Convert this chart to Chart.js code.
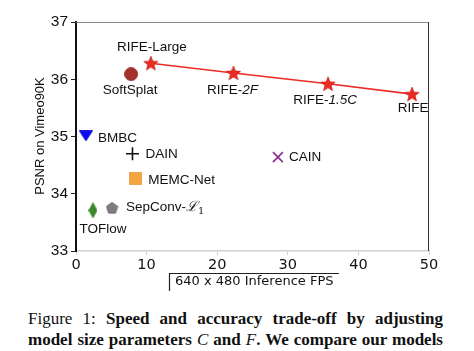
<!DOCTYPE html>
<html>
<head>
<meta charset="utf-8">
<script src="https://cdn.jsdelivr.net/npm/chart.js@4.4.0/dist/chart.umd.min.js"></script>
<style>
  html, body { margin: 0; padding: 0; background: #fff; }
  #wrap { position: relative; width: 474px; height: 351px; overflow: hidden; }
  #box { position: absolute; left: 0; top: 0; width: 474px; height: 300px; }
  .cap { position: absolute; left: 28px; width: 415px; font-family: "Liberation Serif", serif;
         font-size: 17px; font-weight: bold; color: #111; text-align: justify; text-align-last: justify;
         white-space: nowrap; line-height: 21px; }
  .cap .n { font-weight: normal; }
  .cap i { font-weight: normal; }
</style>
</head>
<body>
<div id="wrap">
  <div id="box"><canvas id="trade"></canvas></div>
  <div class="cap" style="top:308px"><span class="n">Figure 1:</span> Speed and accuracy trade-off by adjusting</div>
  <div class="cap" style="top:329px">model size parameters <i>C</i> and <i>F</i>. We compare our models</div>
</div>
<script>
// RIFE 계열 (선으로 연결)
const rifeNames = ['RIFE-Large', 'RIFE-2F', 'RIFE-1.5C', 'RIFE'];
const rifeFps = [10.6, 22.3, 35.7, 47.6];
const rifePsnr = [36.28, 36.11, 35.92, 35.74];

// 비교 대상 방법들
const otherNames = ['SoftSplat', 'BMBC', 'DAIN', 'MEMC-Net', 'SepConv-L1', 'TOFlow', 'CAIN'];
const otherFps = [7.8, 1.4, 8.0, 8.4, 5.1, 2.4, 28.6];
const otherPsnr = [36.09, 35.01, 34.70, 34.26, 33.76, 33.71, 34.64];

// 축 눈금
const xTicks = [0, 10, 20, 30, 40, 50];
const yTicks = [33, 34, 35, 36, 37];

// 마커 이미지 생성
function makeMarker(shape, fill, stroke, w, h) {
    const c = document.createElement('canvas');
    c.width = w; c.height = h;
    const g = c.getContext('2d');
    const cx = w / 2, cy = h / 2;
    g.fillStyle = fill;
    g.strokeStyle = stroke;
    g.lineWidth = 0.8;
    g.beginPath();
    if (shape === 'star') {
        const ro = w / 2 - 0.5, ri = ro * 0.42;
        for (let i = 0; i < 10; i++) {
            const r = i % 2 === 0 ? ro : ri;
            const a = -Math.PI / 2 + i * Math.PI / 5;
            const px = cx + r * Math.cos(a), py = cy + 0.6 + r * Math.sin(a);
            if (i === 0) g.moveTo(px, py); else g.lineTo(px, py);
        }
    } else if (shape === 'pentagon') {
        const ro = w / 2 - 0.5;
        for (let i = 0; i < 5; i++) {
            const a = -Math.PI / 2 + i * 2 * Math.PI / 5;
            const px = cx + ro * Math.cos(a), py = cy + 0.8 + ro * Math.sin(a);
            if (i === 0) g.moveTo(px, py); else g.lineTo(px, py);
        }
    } else if (shape === 'diamond') {
        g.moveTo(cx, 0.5); g.lineTo(w - 0.5, cy); g.lineTo(cx, h - 0.5); g.lineTo(0.5, cy);
    } else if (shape === 'triDown') {
        g.moveTo(0.5, 0.5); g.lineTo(w - 0.5, 0.5); g.lineTo(cx, h - 0.5);
    } else if (shape === 'circle') {
        g.arc(cx, cy, w / 2 - 0.5, 0, Math.PI * 2);
    } else if (shape === 'square') {
        g.rect(0.5, 0.5, w - 1, h - 1);
    }
    g.closePath();
    g.fill();
    g.stroke();
    return c;
}

const starImg = makeMarker('star', '#ec2b24', '#c81e18', 16, 16);
const otherStyles = [
    makeMarker('circle', '#a5302d', '#8a2522', 14, 14),
    makeMarker('triDown', '#0a0af5', '#0000c8', 14, 11),
    'cross',
    makeMarker('square', '#f4a540', '#e89a35', 13, 13),
    makeMarker('pentagon', '#7d7d7d', '#6a6a6a', 13, 13),
    makeMarker('diamond', '#3a8a26', '#2e7420', 9, 16),
    'crossRot'
];
const otherColors = ['#a5302d', '#0a0af5', '#111', '#f4a540', '#7d7d7d', '#3a8a26', '#8e2a8e'];

// 라벨 위치 (점 기준 픽셀 오프셋)
const labelPos = {
    'RIFE-Large': [1, -16, 'center'],
    'RIFE-2F': [-1, 17, 'center'],
    'RIFE-1.5C': [-3, 16, 'center'],
    'RIFE': [1, 14, 'center'],
    'SoftSplat': [-1, 16, 'center'],
    'BMBC': [12, 2, 'left'],
    'DAIN': [13, 1, 'left'],
    'MEMC-Net': [13, 1, 'left'],
    'SepConv-L1': [14, 0, 'left'],
    'TOFlow': [10, 19, 'center'],
    'CAIN': [11, 0, 'left']
};

const LF = '13.5px "Liberation Sans", Arial, sans-serif';
const LFI = 'italic 13.5px "Liberation Sans", Arial, sans-serif';

function labelParts(name) {
    if (name === 'RIFE-2F') return [['RIFE-', LF], ['2F', LFI]];
    if (name === 'RIFE-1.5C') return [['RIFE-', LF], ['1.5C', LFI]];
    if (name === 'SepConv-L1') return [['SepConv-', LF], ['\u2112', 'italic 14px "DejaVu Serif", serif'], ['1', '10px "DejaVu Serif", serif', 4]];
    return [[name, LF]];
}

const labelPlugin = {
    id: 'pointLabels',
    afterDatasetsDraw(chart) {
        const ctx = chart.ctx;
        ctx.save();
        ctx.fillStyle = '#111';
        ctx.textBaseline = 'middle';
        chart.data.datasets.forEach((ds, di) => {
            const meta = chart.getDatasetMeta(di);
            meta.data.forEach((pt, i) => {
                const name = ds.names[i];
                const pos = labelPos[name];
                const parts = labelParts(name);
                let total = 0;
                parts.forEach(p => { ctx.font = p[1]; total += ctx.measureText(p[0]).width; });
                let x = pt.x + pos[0];
                if (pos[2] === 'center') x -= total / 2;
                const y = pt.y + pos[1];
                ctx.textAlign = 'left';
                parts.forEach(p => {
                    ctx.font = p[1];
                    ctx.fillText(p[0], x, y + (p[2] || 0));
                    x += ctx.measureText(p[0]).width;
                });
            });
        });
        ctx.restore();
    }
};

// 테두리, 축 제목
const framePlugin = {
    id: 'frame',
    afterDraw(chart) {
        const ctx = chart.ctx;
        const a = chart.chartArea;
        ctx.save();
        ctx.lineWidth = 1;
        ctx.strokeStyle = '#8a8a8a';
        ctx.beginPath();
        ctx.moveTo(a.left, a.top + 0.5); ctx.lineTo(a.right, a.top + 0.5);
        ctx.stroke();
        ctx.strokeStyle = '#333';
        ctx.beginPath();
        ctx.moveTo(a.right - 0.5, a.top); ctx.lineTo(a.right - 0.5, a.bottom);
        ctx.stroke();

        // y축 제목
        ctx.fillStyle = '#111';
        ctx.font = '13px "Liberation Sans", Arial, sans-serif';
        ctx.textAlign = 'center';
        ctx.textBaseline = 'middle';
        ctx.translate(40, 136);
        ctx.rotate(-Math.PI / 2);
        ctx.fillText('PSNR on Vimeo90K', 0, 0);
        ctx.setTransform(1, 0, 0, 1, 0, 0);

        // x축 제목 (박스 형태)
        ctx.strokeStyle = '#222';
        ctx.lineWidth = 1.2;
        ctx.beginPath();
        ctx.moveTo(169.5, 291); ctx.lineTo(169.5, 273.5); ctx.lineTo(339, 273.5);
        ctx.stroke();
        ctx.font = '13px "DejaVu Sans", sans-serif';
        ctx.textAlign = 'left';
        ctx.fillText('640 x 480 Inference FPS', 175, 282);
        ctx.restore();
    }
};

const ctx = document.getElementById('trade');

const datasets = [{
    names: rifeNames,
    data: rifeFps.map((v, i) => ({ x: v, y: rifePsnr[i] })),
    showLine: true,
    borderColor: '#ec2b24',
    borderWidth: 1.6,
    pointStyle: starImg,
    pointRadius: 8,
    pointHoverRadius: 8
}];
otherNames.forEach((n, i) => {
    const st = otherStyles[i];
    datasets.push({
        names: [n],
        data: [{ x: otherFps[i], y: otherPsnr[i] }],
        pointStyle: st,
        pointRadius: n === 'CAIN' ? 7 : 6.5,
        pointBorderColor: otherColors[i],
        pointBackgroundColor: otherColors[i],
        pointBorderWidth: 1.6
    });
});

new Chart(ctx, {
    type: 'scatter',
    data: { datasets: datasets },
    options: {
        responsive: true,
        maintainAspectRatio: false,
        animation: false,
        layout: { padding: { top: 22, right: 45, left: 0, bottom: 0 } },
        plugins: {
            legend: { display: false },
            tooltip: { enabled: false }
        },
        scales: {
            x: {
                min: xTicks[0],
                max: xTicks[xTicks.length - 1],
                afterBuildTicks: s => { s.ticks = xTicks.map(v => ({ value: v })); },
                afterFit: s => { s.height = 49; },
                grid: { drawOnChartArea: false, tickLength: 4, color: '#cfcfcf' },
                border: { color: '#d2d2d2', width: 1.5 },
                ticks: { color: '#111', padding: 2, maxRotation: 0, font: { family: 'DejaVu Sans', size: 14.5 } }
            },
            y: {
                min: yTicks[0],
                max: yTicks[yTicks.length - 1],
                afterBuildTicks: s => { s.ticks = yTicks.map(v => ({ value: v })); },
                afterFit: s => { s.width = 76; },
                grid: { drawOnChartArea: false, tickLength: 5, color: '#222' },
                border: { color: '#111', width: 2 },
                ticks: { color: '#111', padding: 3, font: { family: 'Liberation Sans', size: 15.5 } }
            }
        }
    },
    plugins: [labelPlugin, framePlugin]
});
</script>
</body>
</html>
